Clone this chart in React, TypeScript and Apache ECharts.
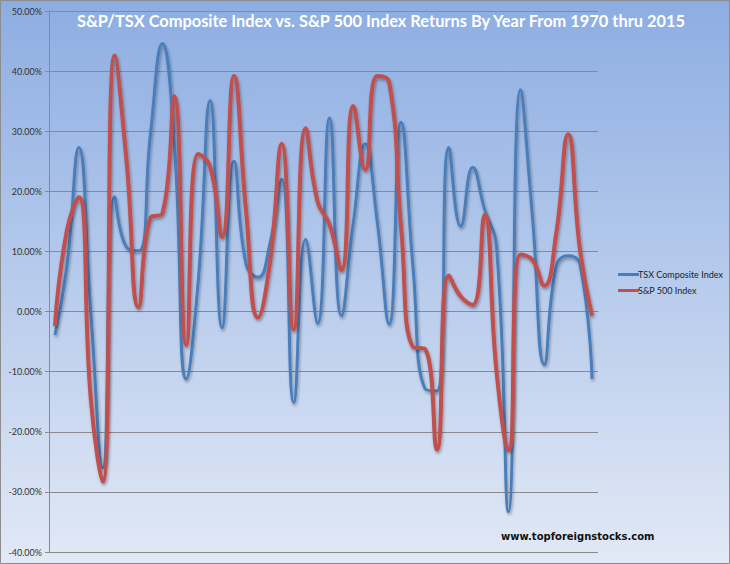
import React, { useEffect, useRef } from "react";
import * as echarts from "echarts";

const years: string[] = [];
for (let y = 1970; y <= 2015; y++) years.push(String(y));

const tsxReturns = [
  -3.9, 7.5, 27.3, 0.0, -26.0, 19.1, 10.7, 10.1, 29.5, 44.6,
  28.0, -11.2, 5.0, 35.1, -2.7, 25.0, 8.0, 5.7, 11.2, 22.0,
  -15.1, 12.0, -2.0, 32.2, -0.7, 14.8, 27.9, 15.0, -2.1, 31.5,
  7.4, -12.8, -13.2, 27.3, 14.2, 24.0, 17.0, 10.7, -33.3, 36.9,
  16.0, -8.8, 7.5, 9.3, 7.8, -11.2,
];

const sp500Returns = [
  -2.4, 13.5, 19.0, -14.5, -28.3, 42.6, 25.0, 0.7, 15.6, 16.3,
  35.8, -5.6, 26.2, 24.1, 12.4, 39.2, 17.0, -1.0, 8.0, 27.9,
  -3.0, 30.5, 18.3, 14.5, 6.9, 34.2, 23.6, 39.2, 38.2, 14.0,
  -5.9, -6.2, -23.0, 6.0, 2.5, 1.1, 16.1, -10.0, -23.1, 9.5,
  8.6, 4.3, 13.0, 29.5, 10.1, -0.7,
];

const seriesNames = ["TSX Composite Index", "S&P 500 Index"];
const titleText = "S&P/TSX Composite Index vs. S&P 500 Index Returns By Year From 1970 thru 2015";
const watermark = "www.topforeignstocks.com";

export default function App() {
  const ref = useRef<HTMLDivElement>(null);
  useEffect(() => {
    if (!ref.current) return;
    const chart = echarts.init(ref.current, undefined, { renderer: "svg" });
    const shadow = {
      shadowColor: "rgba(0,0,0,0.35)",
      shadowBlur: 3,
      shadowOffsetX: 1,
      shadowOffsetY: 2,
    };
    chart.setOption({
      animation: false,
      backgroundColor: "transparent",
      title: {
        text: titleText,
        left: 376,
        textAlign: "center",
        top: 7,
        textStyle: {
          color: "#ffffff",
          fontFamily: "Lato",
          fontWeight: "bold",
          fontSize: 16.4,
        },
      },
      legend: {
        orient: "vertical",
        left: 613,
        top: 265,
        itemWidth: 21,
        itemHeight: 3,
        itemGap: 7,
        icon: "rect",
        data: seriesNames,
        textStyle: { color: "#222", fontFamily: "Lato", fontSize: 9, padding: [0, 0, 0, -6] },
      },
      grid: { left: 49, right: 132, top: 11, bottom: 12, containLabel: false },
      xAxis: {
        type: "category",
        data: years,
        boundaryGap: true,
        axisLine: { show: true, lineStyle: { color: "#8a8a8a", width: 1 } },
        axisTick: { show: false },
        axisLabel: { show: false },
        splitLine: { show: false },
      },
      yAxis: {
        type: "value",
        min: -40,
        max: 50,
        interval: 10,
        axisLine: { show: true, lineStyle: { color: "#8a8a8a", width: 1 } },
        axisTick: { show: true, length: 4, lineStyle: { color: "#8a8a8a" } },
        axisLabel: {
          color: "#333",
          fontFamily: "Lato",
          fontSize: 9,
          margin: 7,
          formatter: (v: number) => v.toFixed(2) + "%",
        },
        splitLine: { show: true, lineStyle: { color: "#8a8a8a", width: 1 } },
      },
      series: [
        {
          name: seriesNames[0],
          type: "line",
          data: tsxReturns,
          smooth: 0.5,
          symbol: "none",
          color: "#4a7ebb",
          lineStyle: { color: "#4a7ebb", width: 3, ...shadow },
          z: 2,
        },
        {
          name: seriesNames[1],
          type: "line",
          data: sp500Returns,
          smooth: 0.5,
          symbol: "none",
          color: "#c0504d",
          lineStyle: { color: "#c0504d", width: 4, ...shadow },
          z: 3,
        },
      ],
      graphic: [
        {
          type: "text",
          left: 501,
          top: 531,
          style: {
            text: watermark,
            fill: "#111",
            font: "bold 10px 'DejaVu Sans'",
          },
        },
        {
          type: "rect",
          silent: true,
          z: 100,
          shape: { x: 0.5, y: 0.5, width: 729, height: 563 },
          style: { fill: "none", stroke: "#8d8d8d", lineWidth: 1 },
        },
      ],
    });
    return () => chart.dispose();
  }, []);
  return (
    <div
      ref={ref}
      style={{
        position: "fixed",
        left: 0,
        top: 0,
        width: 730,
        height: 564,
        background: "linear-gradient(to bottom, #8dade2 0%, #b7cbec 50%, #e2e9f6 100%)",
      }}
    />
  );
}
